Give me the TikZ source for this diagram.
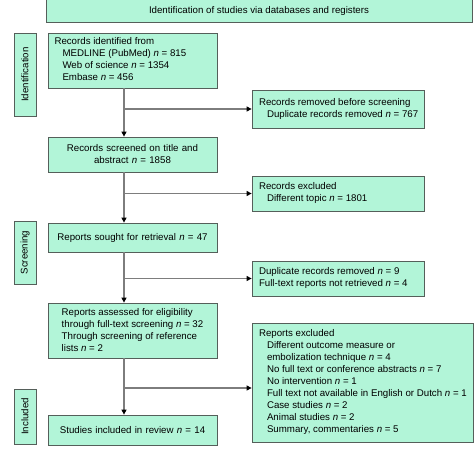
\documentclass[tikz,border=0pt]{standalone}
\usepackage{fontspec}
\setmainfont{Liberation Sans}
\usetikzlibrary{arrows.meta}
\definecolor{boxfill}{RGB}{178,245,216}
\definecolor{boxline}{RGB}{85,95,90}
\definecolor{connc}{RGB}{125,125,125}
\tikzset{
  box/.style={draw=boxline, fill=boxfill, line width=0.8pt, inner sep=0pt,
    font=\fontsize{9.7}{12}\selectfont},
  mainbox/.style={box, minimum width=169pt},
  rightbox/.style={box, minimum width=172pt},
  sidebox/.style={box, rotate=90, minimum height=22pt},
  conn/.style={draw=connc, line width=1.2pt},
  arr/.style={conn, -{Triangle[length=5pt,width=5pt,color=black]}}
}
\newcommand{\ind}{\hspace*{8pt}}
\newcommand{\nn}{\textit{n}}
\newcommand{\lbox}[2]{\makebox[#1][l]{\begin{tabular}{@{}l@{}}#2\end{tabular}}}
\begin{document}
\begin{tikzpicture}[x=1pt,y=-1pt]
\useasboundingbox (0,0) rectangle (474,460);
% header
\node[box, minimum width=426pt, minimum height=23pt] (hdr) at (259,11)
  {Identification of studies via databases and registers};
% side boxes
\node[sidebox, minimum width=83pt] (sid) at (25,74.5) {Identification};
\node[sidebox, minimum width=63pt] (sscr) at (25,252.5) {Screening};
\node[sidebox, minimum width=55pt] (sinc) at (25,416.5) {Included};
% main column
\node[mainbox, minimum height=55pt] (rid) at (132.5,60.5)
  {\lbox{156pt}{Records identified from\\
   \ind MEDLINE (PubMed) \nn{} = 815\\
   \ind Web of science \nn{} = 1354\\
   \ind Embase \nn{} = 456}};
\node[mainbox, minimum height=35pt, text width=155pt, align=center] (rsc) at (132.5,154.5)
  {Records screened on title and\\ abstract \nn{} = 1858};
\node[mainbox, minimum height=29pt, text width=160pt, align=center] (rso) at (132.5,237.5)
  {Reports sought for retrieval \nn{} = 47};
\node[mainbox, minimum height=55pt, align=left] (ras) at (132.5,330.5)
  {Reports assessed for eligibility\\
   through full-text screening \nn{} = 32\\
   Through screening of reference\\
   lists \nn{} = 2};
\node[mainbox, minimum height=30pt, text width=160pt, align=center] (sin) at (132.5,430)
  {Studies included in review \nn{} = 14};
% right column
\node[rightbox, minimum height=38pt] (rrm) at (338,109)
  {\lbox{158pt}{Records removed before screening\\
   \ind Duplicate records removed \nn{} = 767}};
\node[rightbox, minimum height=35pt] (rex) at (338,193.5)
  {\lbox{158pt}{Records excluded\\
   \ind Different topic \nn{} = 1801}};
\node[rightbox, minimum height=35pt] (dup) at (338,278.5)
  {\lbox{158pt}{Duplicate records removed \nn{} = 9\\
   Full-text reports not retrieved \nn{} = 4}};
\node[box, minimum width=221pt, minimum height=119pt] (rexc) at (362.5,382.5)
  {\lbox{207pt}{Reports excluded\\
   \ind Different outcome measure or\\
   \ind embolization technique \nn{} = 4\\
   \ind No full text or conference abstracts \nn{} = 7\\
   \ind No intervention \nn{} = 1\\
   \ind Full text not available in English or Dutch \nn{} = 1\\
   \ind Case studies \nn{} = 2\\
   \ind Animal studies \nn{} = 2\\
   \ind Summary, commentaries \nn{} = 5}};
% connectors
\coordinate (sp) at (124,0);
\coordinate (b1) at (124,109);
\coordinate (b2) at (124,193.5);
\coordinate (b3) at (124,278.5);
\coordinate (b4) at (124,388);
\draw[arr] (rid.south -| sp) -- (rsc.north -| sp);
\draw[arr] (rsc.south -| sp) -- (rso.north -| sp);
\draw[arr] (rso.south -| sp) -- (ras.north -| sp);
\draw[arr] (ras.south -| sp) -- (sin.north -| sp);
\draw[arr] (b1) -- (b1 -| rrm.west);
\draw[arr] (b2) -- (b2 -| rex.west);
\draw[arr] (b3) -- (b3 -| dup.west);
\draw[arr] (b4) -- (b4 -| rexc.west);
\end{tikzpicture}
\end{document}
